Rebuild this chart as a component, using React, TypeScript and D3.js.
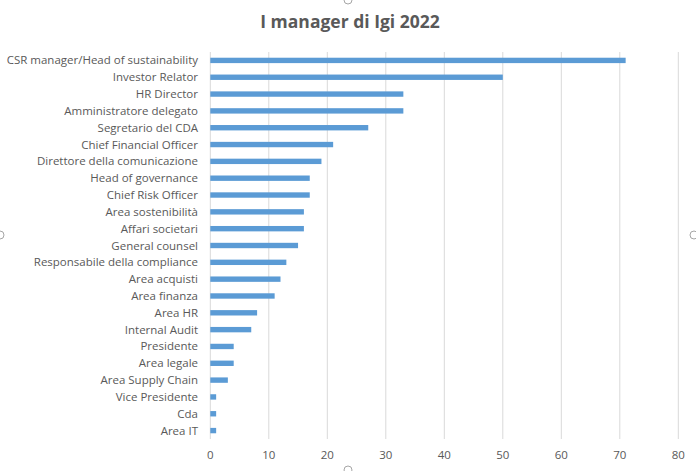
import React from 'react';
import * as d3 from 'd3';

const categories = [
  'CSR manager/Head of sustainability',
  'Investor Relator',
  'HR Director',
  'Amministratore delegato',
  'Segretario del CDA',
  'Chief Financial Officer',
  'Direttore della comunicazione',
  'Head of governance',
  'Chief Risk Officer',
  'Area sostenibilità',
  'Affari societari',
  'General counsel',
  'Responsabile della compliance',
  'Area acquisti',
  'Area finanza',
  'Area HR',
  'Internal Audit',
  'Presidente',
  'Area legale',
  'Area Supply Chain',
  'Vice Presidente',
  'Cda',
  'Area IT',
];

const values = [71, 50, 33, 33, 27, 21, 19, 17, 17, 16, 16, 15, 13, 12, 11, 8, 7, 4, 4, 3, 1, 1, 1];

const xTicks = [0, 10, 20, 30, 40, 50, 60, 70, 80];

const title = 'I manager di Igi 2022';

const width = 696;
const height = 471;
const plot = { left: 210.3, right: 678.3, top: 52, bottom: 439 };
const font = '"Open Sans", "Noto Sans", sans-serif';
const textColor = '#595959';

export default function App() {
  const x = d3.scaleLinear().domain([0, 80]).range([plot.left, plot.right]);
  const y = d3
    .scaleBand<string>()
    .domain(categories)
    .range([plot.top, plot.bottom])
    .paddingInner(0.68)
    .paddingOuter(0.34);

  // Excel selection handles around the chart frame
  const handles: [number, number][] = [
    [348, 0], [348, height - 1], [0, 235], [width - 2, 235],
  ];

  return (
    <div style={{ position: 'fixed', left: 0, top: 0 }}>
      <svg width={width} height={height} style={{ display: 'block', background: '#fff' }}>
        <text
          x={350}
          y={28}
          textAnchor="middle"
          fontFamily={font}
          fontWeight="bold"
          fontSize={17.5}
          fill={textColor}
        >
          {title}
        </text>

        {xTicks.map(t => (
          <g key={t}>
            <line
              x1={x(t)}
              x2={x(t)}
              y1={plot.top}
              y2={plot.bottom}
              stroke="#d9d9d9"
              strokeWidth={1}
            />
            <text
              x={x(t)}
              y={459}
              textAnchor="middle"
              fontFamily={font}
              fontSize={11.5}
              fill={textColor}
            >
              {t}
            </text>
          </g>
        ))}

        {categories.map((c, i) => (
          <g key={c}>
            <rect
              x={x(0)}
              y={y(c)}
              width={x(values[i]) - x(0)}
              height={y.bandwidth()}
              fill="#5b9bd5"
            />
            <text
              x={198}
              y={(y(c) as number) + y.bandwidth() / 2}
              dy="0.35em"
              textAnchor="end"
              fontFamily={font}
              fontSize={11.5}
              fill={textColor}
            >
              {c}
            </text>
          </g>
        ))}

        {handles.map(([hx, hy], i) => (
          <circle key={i} cx={hx} cy={hy} r={4} fill="#fff" stroke="#a6a6a6" strokeWidth={1} />
        ))}
      </svg>
    </div>
  );
}
